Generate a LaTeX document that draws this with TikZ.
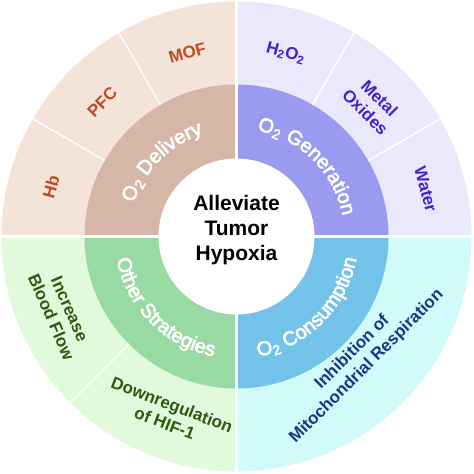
\documentclass[tikz,border=0pt]{standalone}
\usepackage{fontspec}
\setmainfont{Liberation Sans}
\usetikzlibrary{decorations.text}
\definecolor{delOut}{HTML}{F4E3D8}
\definecolor{delIn}{HTML}{D6B6A6}
\definecolor{delTxt}{HTML}{BF4A1C}
\definecolor{genOut}{HTML}{E9E9FB}
\definecolor{genIn}{HTML}{9A9AF0}
\definecolor{genTxt}{HTML}{4520D2}
\definecolor{othOut}{HTML}{E2FADC}
\definecolor{othIn}{HTML}{99D9A3}
\definecolor{othTxt}{HTML}{2F5A12}
\definecolor{conOut}{HTML}{D2FAF8}
\definecolor{conIn}{HTML}{72C2EA}
\definecolor{conTxt}{HTML}{17388A}
\newfontfamily\semibold[FakeBold=3]{Liberation Sans}
\newcommand{\outerfont}{\fontsize{17}{20}\selectfont\bfseries}
\newcommand{\innerfont}{\semibold\fontsize{20}{22}\selectfont}
\newcommand{\centerfont}{\fontsize{21}{25}\selectfont\bfseries}
\tikzset{
  outerlabel/.style={font=\outerfont, align=center, inner sep=0pt},
  centerlabel/.style={font=\centerfont, anchor=base, inner sep=0pt},
  quadgap/.style={white, line width=3pt},
  subgap/.style={white, line width=1.5pt},
  toparc/.style={decorate, decoration={text along path, text align=center, text color=white, text={#1}}},
}
\begin{document}
\begin{tikzpicture}[x=1pt,y=1pt]
\useasboundingbox (-236.5,-237.5) rectangle (237.5,236.5);
% outer ring sectors
\fill[delOut] (0,0) -- (90:235) arc[start angle=90,end angle=180,radius=235] -- cycle;
\fill[genOut] (0,0) -- (0:235) arc[start angle=0,end angle=90,radius=235] -- cycle;
\fill[othOut] (0,0) -- (180:235) arc[start angle=180,end angle=270,radius=235] -- cycle;
\fill[conOut] (0,0) -- (270:235) arc[start angle=270,end angle=360,radius=235] -- cycle;
% middle ring sectors
\fill[delIn] (0,0) -- (90:152) arc[start angle=90,end angle=180,radius=152] -- cycle;
\fill[genIn] (0,0) -- (0:152) arc[start angle=0,end angle=90,radius=152] -- cycle;
\fill[othIn] (0,0) -- (180:152) arc[start angle=180,end angle=270,radius=152] -- cycle;
\fill[conIn] (0,0) -- (270:152) arc[start angle=270,end angle=360,radius=152] -- cycle;
% sub dividers
\foreach \a in {150,120,60,30,225} \draw[subgap] (\a:152) -- (\a:236);
% quadrant gaps
\draw[quadgap] (-237,0) -- (237,0);
\draw[quadgap] (0,-237) -- (0,237);
% centre circle
\fill[white] (0,0) circle[radius=78];
\node[centerlabel] (c1) at (0,26.5) {Alleviate};
\node[centerlabel] (c2) at (0,1.5) {Tumor};
\node[centerlabel] (c3) at (0,-23.5) {Hypoxia};
% inner ring texts
\path[toparc={|\innerfont|O{\textsubscript{2}} Delivery}] (180:108) arc[start angle=180,end angle=90,radius=108];
\path[toparc={|\innerfont|O{\textsubscript{2}} Generation}] (90:108) arc[start angle=90,end angle=0,radius=108];
\path[toparc={|\innerfont|Other Strategies}] (180:122) arc[start angle=180,end angle=270,radius=122];
\path[toparc={|\innerfont|O{\textsubscript{2}} Consumption}] (270:122) arc[start angle=270,end angle=360,radius=122];
% outer labels
\node[outerlabel, text=delTxt, rotate=75] (hb) at (165:192) {Hb};
\node[outerlabel, text=delTxt, rotate=45] (pfc) at (135:190) {PFC};
\node[outerlabel, text=delTxt, rotate=15] (mof) at (105:190) {MOF};
\node[outerlabel, text=genTxt, rotate=-15] (h2o2) at (75:190) {H\textsubscript{2}O\textsubscript{2}};
\node[outerlabel, text=genTxt, rotate=-45] (mo) at (44:189) {Metal\\Oxides};
\node[outerlabel, text=genTxt, rotate=-75] (water) at (14:195) {Water};
\node[outerlabel, text=othTxt, rotate=-66.5] (ibf) at (203.5:192) {Increase\\Blood Flow};
\node[outerlabel, text=othTxt, rotate=-21] (hif) at (249:190) {Downregulation\\of HIF-1};
\node[outerlabel, text=conTxt, rotate=45] (imr) at (315:174) {Inhibition of\\Mitochondrial Respiration};
\end{tikzpicture}
\end{document}
